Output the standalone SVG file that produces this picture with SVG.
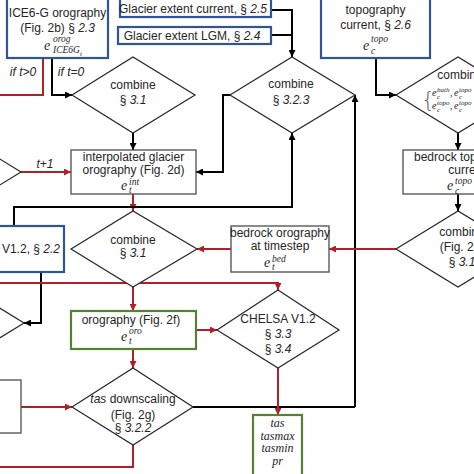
<svg xmlns="http://www.w3.org/2000/svg" width="474" height="474" viewBox="0 0 474 474">
<defs>
<marker id="ak" viewBox="0 0 10 10" refX="10" refY="5" markerWidth="7" markerHeight="7" markerUnits="userSpaceOnUse" orient="auto"><path d="M0,0 L10,5 L0,10 z" fill="#000"/></marker>
<marker id="ar" viewBox="0 0 10 10" refX="10" refY="5" markerWidth="7" markerHeight="7" markerUnits="userSpaceOnUse" orient="auto"><path d="M0,0 L10,5 L0,10 z" fill="#B0202A"/></marker>
</defs>
<style>
.box{fill:#fff;stroke:#595959;stroke-width:1.4}
.blue{fill:#fff;stroke:#2F5597;stroke-width:2.2}
.green{fill:#fff;stroke:#548235;stroke-width:2.2}
.dia{fill:#fff;stroke:#262626;stroke-width:1.2}
.k{stroke:#000;stroke-width:2;fill:none}
.r{stroke:#B0202A;stroke-width:2;fill:none}
text{font-family:"Liberation Sans",Arial,sans-serif;font-size:12px;fill:#262626;text-anchor:middle}
.it{font-style:italic}
.m{font-family:"Liberation Serif","Times New Roman",serif;font-style:italic}
.ml{font-family:"Liberation Serif","Times New Roman",serif;font-style:italic;text-anchor:start;font-size:14px}
.s{font-size:9.5px}
.ss{font-size:7px}
</style>

<g id="connectors">
<path class="k" d="M271,10 H292 V57" marker-end="url(#ak)"/>
<path class="k" d="M271,35 H292"/>
<path class="k" d="M376,58 V95 H396" marker-end="url(#ak)"/>
<path class="k" d="M52,58 V95 H72" marker-end="url(#ak)"/>
<path class="r" d="M43,58 V95 H0"/>
<path class="k" d="M133,133 V150" marker-end="url(#ak)"/>
<path class="k" d="M230,95 H223 V172 H196" marker-end="url(#ak)"/>
<path class="k" d="M458,133 V150" marker-end="url(#ak)"/>
<path class="k" d="M458,194 V211" marker-end="url(#ak)"/>
<path class="r" d="M21,172 H71" marker-end="url(#ar)"/>
<path class="r" d="M133,194 V211" marker-end="url(#ar)"/>
<path class="k" d="M14,226 V207 H292 V133" marker-end="url(#ak)"/>
<path class="k" d="M355,407 V95" marker-end="url(#ak)"/>
<path class="k" d="M193,407 H355"/>
<path class="r" d="M396,249 H329" marker-end="url(#ar)"/>
<path class="r" d="M231,249 H197" marker-end="url(#ar)"/>
<path class="k" d="M41,272 V323 H24" marker-end="url(#ak)"/>
<path class="r" d="M0,283 H278 V290" marker-end="url(#ar)"/>
<path class="r" d="M133,287 V311" marker-end="url(#ar)"/>
<path class="r" d="M196,330 H217" marker-end="url(#ar)"/>
<path class="r" d="M133,349 V368" marker-end="url(#ar)"/>
<path class="r" d="M21,407 H72" marker-end="url(#ar)"/>
<path class="r" d="M133,445 V467 H0"/>
<path class="r" d="M278,368 V415" marker-end="url(#ar)"/>
</g>

<g id="ice6g">
<rect class="blue" x="7" y="-2" width="101" height="60"/>
<text x="57.5" y="17">ICE6-G orography</text>
<text x="57.5" y="32">(Fig. 2b) § <tspan class="it">2.3</tspan></text>
<text class="ml" x="44" y="50">e<tspan class="s" x="53" y="42">orog</tspan><tspan class="s" x="53" y="53">ICE6G</tspan><tspan class="ss" x="80" y="56">t</tspan></text>
</g>

<g id="glacier-current">
<rect class="blue" x="120" y="-2" width="151" height="19"/>
<text x="193" y="13">Glacier extent current, § <tspan class="it">2.5</tspan></text>
</g>

<g id="glacier-lgm">
<rect class="blue" x="118" y="27" width="153" height="17"/>
<text x="192" y="39.5">Glacier extent LGM, § <tspan class="it">2.4</tspan></text>
</g>

<g id="topography-current">
<rect class="blue" x="321" y="-2" width="109" height="60"/>
<text x="375.5" y="14">topography</text>
<text x="375.5" y="29">current, § <tspan class="it">2.6</tspan></text>
<text class="ml" x="363" y="50">e<tspan class="s" x="371" y="42">topo</tspan><tspan class="s" x="371" y="54">c</tspan></text>
</g>

<g id="if-labels">
<text class="it" x="23" y="76">if t&gt;0</text>
<text class="it" x="71" y="76">if t=0</text>
<text class="it" x="45" y="168">t+1</text>
</g>

<g id="combine1">
<polygon class="dia" points="72,95 133,57 195,95 133,133"/>
<text x="133" y="89">combine</text>
<text x="133" y="104">§ <tspan class="it">3.1</tspan></text>
</g>

<g id="combine-323">
<polygon class="dia" points="230,95 292,57 355,95 292,133"/>
<text x="291" y="88">combine</text>
<text x="291" y="104">§ <tspan class="it">3.2.3</tspan></text>
</g>

<g id="combine-bath">
<polygon class="dia" points="396,95 458,57 520,95 458,133"/>
<text x="460" y="79">combine</text>
<text class="ml" x="421" y="107" style="font-size:22px;fill:#666;font-style:normal;font-family:'DejaVu Sans',sans-serif;font-weight:200">{</text>
<text class="ml" x="432" y="96" style="font-size:10px">e<tspan class="ss" x="437" y="92">bath</tspan><tspan class="ss" x="437" y="99">c</tspan><tspan x="450" y="96">,</tspan><tspan x="454" y="96">e</tspan><tspan class="ss" x="459" y="92">topo</tspan><tspan class="ss" x="459" y="99">c</tspan></text>
<text class="ml" x="432" y="109" style="font-size:10px">e<tspan class="ss" x="437" y="105">topo</tspan><tspan class="ss" x="437" y="112">c</tspan><tspan x="450" y="109">,</tspan><tspan x="454" y="109">e</tspan><tspan class="ss" x="459" y="105">topo</tspan><tspan class="ss" x="459" y="112">c</tspan></text>
</g>

<g id="interpolated">
<rect class="box" x="71" y="150" width="125" height="44"/>
<text x="133.5" y="161">interpolated glacier</text>
<text x="133.5" y="174">orography (Fig. 2d)</text>
<text class="ml" x="121" y="190">e<tspan class="s" x="129" y="185">int</tspan><tspan class="s" x="129" y="193">t</tspan></text>
</g>

<g id="small-diamond-top">
<polygon class="dia" points="-103,172 -41,134 21,172 -41,210"/>
</g>

<g id="bedrock-topo-current">
<rect class="box" x="403" y="150" width="130" height="44"/>
<text x="467" y="161">bedrock topography</text>
<text x="467" y="174">current</text>
<text class="ml" x="447" y="190">e<tspan class="s" x="455" y="184">topo</tspan><tspan class="s" x="455" y="194">c</tspan></text>
</g>

<g id="chelsa-input">
<rect class="blue" x="-60" y="226" width="124" height="46"/>
<text x="60" y="253" style="text-anchor:end">CHELSA V1.2, § <tspan class="it">2.2</tspan></text>
</g>

<g id="combine2">
<polygon class="dia" points="71,249 133,211 197,249 133,287"/>
<text x="133" y="244">combine</text>
<text x="133" y="257">§ <tspan class="it">3.1</tspan></text>
</g>

<g id="bedrock-orography">
<rect class="box" x="231" y="226" width="98" height="46"/>
<text x="280" y="237">bedrock orography</text>
<text x="280" y="250">at timestep</text>
<text class="ml" x="264" y="267">e<tspan class="s" x="272" y="262">bed</tspan><tspan class="s" x="272" y="270">t</tspan></text>
</g>

<g id="combine-2a">
<polygon class="dia" points="396,249 458,211 520,249 458,287"/>
<text x="462" y="236">combine</text>
<text x="462" y="251">(Fig. 2a)</text>
<text x="462" y="266">§ <tspan class="it">3.1</tspan></text>
</g>

<g id="small-diamond-bottom">
<polygon class="dia" points="-100,323 -38,285 24,323 -38,361"/>
</g>

<g id="orography">
<rect class="green" x="71" y="311" width="125" height="38"/>
<text x="131" y="324">orography  (Fig. 2f)</text>
<text class="ml" x="121" y="341">e<tspan class="s" x="129" y="334">oro</tspan><tspan class="s" x="129" y="344">t</tspan></text>
</g>

<g id="chelsa-diamond">
<polygon class="dia" points="217,330 278,290 339,330 278,368"/>
<text x="278" y="323">CHELSA V1.2</text>
<text x="278" y="338">§ <tspan class="it">3.3</tspan></text>
<text x="278" y="353">§ <tspan class="it">3.4</tspan></text>
</g>

<g id="left-box">
<rect class="box" x="-60" y="380" width="81" height="53"/>
</g>

<g id="tas-downscaling">
<polygon class="dia" points="72,407 133,368 193,407 133,445"/>
<text x="133" y="403"><tspan class="it">tas</tspan> downscaling</text>
<text x="133" y="419">(Fig. 2g)</text>
<text x="133" y="432">§ <tspan class="it">3.2.2</tspan></text>
</g>

<g id="output">
<rect class="green" x="253" y="415" width="49" height="65"/>
<text class="m" x="277.5" y="427" style="font-size:12px">tas</text>
<text class="m" x="277.5" y="440" style="font-size:12px">tasmax</text>
<text class="m" x="277.5" y="452" style="font-size:12px">tasmin</text>
<text class="m" x="277.5" y="465" style="font-size:12px">pr</text>
</g>
</svg>
